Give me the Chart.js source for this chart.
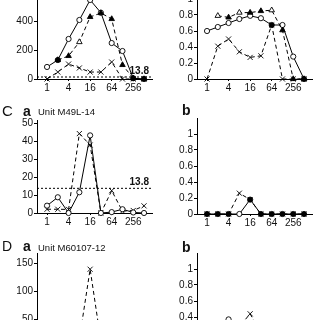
<!DOCTYPE html>
<html><head><meta charset="utf-8">
<script src="https://cdn.jsdelivr.net/npm/chart.js@4/dist/chart.umd.min.js"></script>
<style>
html,body{margin:0;padding:0;background:#fff;width:320px;height:320px;overflow:hidden;position:relative;font-family:"Liberation Sans",Arial,sans-serif}
canvas{position:absolute}
.lbl{position:absolute;color:#111;white-space:nowrap;line-height:1}
</style></head><body>
<canvas id="ba" width="160" height="130" style="left:0;top:-30px"></canvas>
<canvas id="bb" width="160" height="130" style="left:160px;top:-30px"></canvas>
<canvas id="ca" width="160" height="130" style="left:0;top:100px"></canvas>
<canvas id="cb" width="160" height="130" style="left:160px;top:100px"></canvas>
<canvas id="da" width="160" height="140" style="left:0;top:230px"></canvas>
<canvas id="db" width="160" height="140" style="left:160px;top:230px"></canvas>
<div class="lbl" style="left:2px;top:103px;font-size:15px">C</div>
<div class="lbl" style="left:23px;top:104px;font-size:14px;font-weight:bold">a</div>
<div class="lbl" style="left:38px;top:107px;font-size:9.5px">Unit M49L-14</div>
<div class="lbl" style="left:182px;top:103px;font-size:14px;font-weight:bold">b</div>
<div class="lbl" style="left:2px;top:239px;font-size:14px">D</div>
<div class="lbl" style="left:23px;top:239px;font-size:14px;font-weight:bold">a</div>
<div class="lbl" style="left:38px;top:243px;font-size:9.5px">Unit M60107-12</div>
<div class="lbl" style="left:182px;top:240px;font-size:14px;font-weight:bold">b</div>
<script>
// ---- data ----
const stim = [1, 2, 4, 8, 16, 32, 64, 128, 256, 512];
const xTickValues = [1, 4, 16, 64, 256];

// Panel B a (rate)
const baCircle   = [83, 131, 276, 407, 545, 457, 248, 193, 5, 0];
const baTriangle = [null, 131, 159, 255, 428, 455, 414, 97, 5, 0];
const baCross    = [0, 48, 103, 76, 48, 48, 117, 0, 0, 0];
const baYTicks   = [0, 200, 400, 600];

// Panel B b (proportion)
const bbCircle   = [0.60, 0.65, 0.70, 0.75, 0.79, 0.76, 0.675, 0.675, 0.28, 0];
const bbTriangle = [null, 0.79, 0.77, 0.83, 0.83, 0.85, 0.86, 0.61, 0, 0];
const bbCross    = [0, 0.41, 0.50, 0.34, 0.27, 0.29, 0.675, 0, 0, 0];
const propYTicks = [0, 0.2, 0.4, 0.6, 0.8, 1];

// Panel C a (Unit M49L-14)
const caCircle = [4.1, 8.8, 0, 11.6, 43.4, 0, 0.5, 2.1, 0.3, 0];
const caCross  = [2.1, 2.1, 2.0, 44.4, 38, 0, 12.5, 1, 1.4, 4];
const caYTicks = [0, 10, 20, 30, 40, 50];

// Panel C b
const cbCircle = [0, 0, 0, 0, 0.18, 0, 0, 0, 0, 0];
const cbCross  = [0, 0, 0, 0.26, 0.18, 0, 0, 0, 0, 0];

// Panel D a (Unit M60107-12)
const daCircle = [3, 2, 6, 20, 30, 8, 2, 0, 0, 0];
const daCross  = [5, 3, 8, 14, 139, 10, 4, 2, 0, 0];
const daYTicks = [0, 50, 100, 150];

// Panel D b
const dbCircle = [0, 0.1, 0.37, 0.25, 0.2, 0.1, 0, 0, 0, 0];
const dbCross  = [0, 0.1, 0.2, 0.28, 0.44, 0.2, 0, 0, 0, 0];

const threshold = 13.8;

// ---- styling helpers ----
const FONT = {family: "'Liberation Sans', Arial, sans-serif", size: 10};
const X_MIN = Math.pow(2, -0.93), X_MAX = Math.pow(2, 9.74);

function series(vals, kind, filledIdx) {
  const d = {
    data: stim.map((x, i) => ({x: x, y: vals[i]})),
    borderColor: '#000', borderWidth: 1, clip: false, tension: 0,
    pointBorderColor: '#000', pointBorderWidth: 0.9,
    pointBackgroundColor: stim.map((_, i) => (filledIdx || []).includes(i) ? '#000' : '#fff')
  };
  if (kind === 'circle') { d.pointStyle = 'circle'; d.pointRadius = 2.6; }
  if (kind === 'tri')    { d.pointStyle = 'triangle'; d.pointRadius = 3.2; d.borderDash = [4, 3]; }
  if (kind === 'cross')  { d.pointStyle = 'crossRot'; d.pointRadius = 3.6; d.borderDash = [4, 3]; }
  return d;
}

const threshPlugin = {
  id: 'thresh',
  beforeDatasetsDraw(chart, args, opts) {
    if (opts.value == null) return;
    const {ctx, chartArea, scales} = chart;
    const py = scales.y.getPixelForValue(opts.value);
    ctx.save();
    ctx.strokeStyle = '#000'; ctx.lineWidth = 1; ctx.setLineDash([2, 2]);
    ctx.beginPath(); ctx.moveTo(chartArea.left, py); ctx.lineTo(chartArea.right, py); ctx.stroke();
    ctx.setLineDash([]);
    ctx.fillStyle = '#111';
    ctx.font = "bold 10px 'Liberation Sans', Arial, sans-serif";
    ctx.textAlign = 'right'; ctx.textBaseline = 'bottom';
    ctx.fillText(String(opts.value), chartArea.right - 3, py - 1);
    ctx.restore();
  }
};

function fmt(v) { return String(+Number(v).toFixed(2)); }

function make(id, datasets, yMax, yTicks, padTop, xH, thresh) {
  new Chart(document.getElementById(id), {
    type: 'line',
    data: {datasets: datasets},
    options: {
      responsive: false, animation: false, events: [],
      layout: {padding: {top: padTop, right: 8, bottom: 0, left: 0}},
      plugins: {legend: {display: false}, tooltip: {enabled: false}, thresh: {value: thresh}},
      scales: {
        x: {
          type: 'logarithmic', min: X_MIN, max: X_MAX,
          afterBuildTicks: s => { s.ticks = xTickValues.map(v => ({value: v})); },
          afterFit: s => { s.height = xH; },
          ticks: {callback: v => fmt(v), font: FONT, color: '#111', padding: 1, maxRotation: 0, autoSkip: false},
          grid: {drawOnChartArea: false, drawTicks: true, tickLength: 2, color: '#000'},
          border: {color: '#000', width: 1}
        },
        y: {
          type: 'linear', min: 0, max: yMax,
          afterBuildTicks: s => { s.ticks = yTicks.filter(v => v <= yMax).map(v => ({value: v})); },
          afterFit: s => { s.width = 37; },
          ticks: {callback: v => fmt(v), font: FONT, color: '#111', padding: 1},
          grid: {drawOnChartArea: false, drawTicks: true, tickLength: 3, color: '#000'},
          border: {color: '#000', width: 1}
        }
      }
    },
    plugins: [threshPlugin]
  });
}

make('ba', [
  series(baCross, 'cross'),
  series(baTriangle, 'tri', [1, 2, 4, 5, 6, 7, 8, 9]),
  series(baCircle, 'circle', [1, 8, 9])
], 600, baYTicks, 22, 21, threshold);

make('bb', [
  series(bbCross, 'cross', [6]),
  series(bbTriangle, 'tri', [2, 4, 5, 7, 8, 9]),
  series(bbCircle, 'circle', [6, 9])
], 1.2, propYTicks, 13, 21, null);

make('ca', [
  series(caCircle, 'circle', []),
  series(caCross, 'cross', [4])
], 52, caYTicks, 20, 17, threshold);

make('cb', [
  series(cbCross, 'cross', [4]),
  series(cbCircle, 'circle', [0, 1, 2, 4, 5, 6, 7, 8, 9])
], 1.2, propYTicks, 18, 16, null);

make('da', [
  series(daCross, 'cross'),
  series(daCircle, 'circle')
], 168, daYTicks, 23, 23, null);

make('db', [
  series(dbCross, 'cross'),
  series(dbCircle, 'circle')
], 1.2, propYTicks, 23, 21, null);
</script>
</body></html>
